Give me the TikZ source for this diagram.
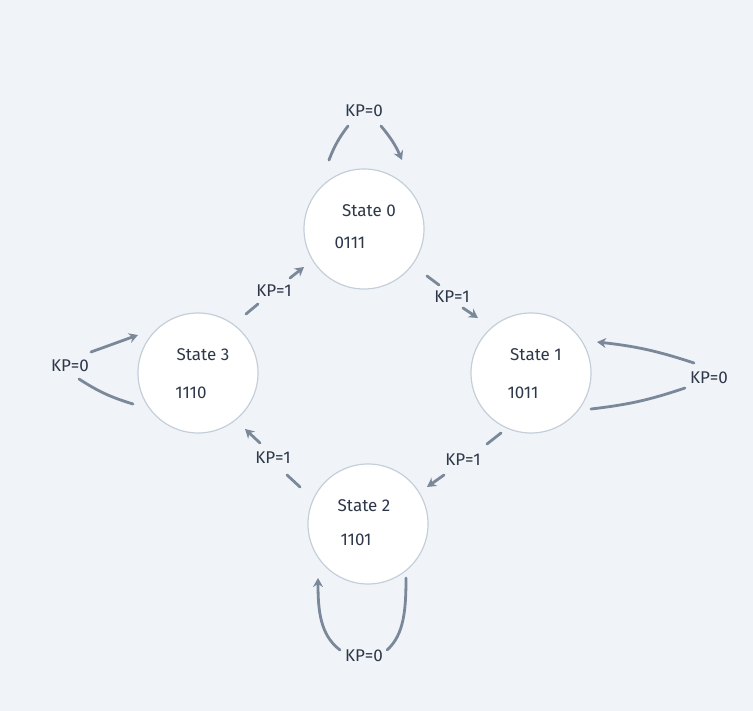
\documentclass[tikz,border=0pt]{standalone}
\usepackage{fontspec}
\setmainfont{Fira Sans}
\usetikzlibrary{arrows.meta}
\definecolor{bg}{HTML}{F0F4F8}
\definecolor{ring}{HTML}{C5CFDA}
\definecolor{arr}{HTML}{7A8899}
\definecolor{txt}{HTML}{2D3748}
\begin{document}
\begin{tikzpicture}[x=1pt,y=-1pt,
  st/.style={circle,draw=ring,line width=1.2pt,fill=white,minimum size=120pt,inner sep=0pt},
  lbl/.style={text=txt,font=\fontsize{17}{20}\selectfont,inner sep=1pt},
  ln/.style={draw=arr,line width=2.8pt,line cap=round},
  ar/.style={ln,-{Stealth[length=9pt,width=10pt]}}]
\fill[bg] (0,0) rectangle (753,711);
\useasboundingbox (0,0) rectangle (753,711);
\node[st] (s0) at (364,229) {};
\node[st] (s1) at (531,373) {};
\node[st] (s2) at (368,524) {};
\node[st] (s3) at (198,373) {};
\node[lbl] (t0) at (369,211) {State 0}; \node[lbl] (c0) at (350,243) {0111};
\node[lbl] (t1) at (536,355) {State 1}; \node[lbl] (c1) at (523,393) {1011};
\node[lbl] (t2) at (364,506) {State 2}; \node[lbl] (c2) at (356,540) {1101};
\node[lbl] (t3) at (203,355) {State 3}; \node[lbl] (c3) at (191,393) {1110};
% labels
\node[lbl] (l00) at (364,111) {KP=0};
\node[lbl] (l01) at (452,297) {KP=1};
\node[lbl] (l12) at (463,460) {KP=1};
\node[lbl] (l23) at (273,458) {KP=1};
\node[lbl] (l30) at (274,291) {KP=1};
\node[lbl] (l11) at (709,378) {KP=0};
\node[lbl] (l33) at (70,366) {KP=0};
\node[lbl] (l22) at (364,656) {KP=0};
\coordinate (a1) at (329,160); \coordinate (a2) at (348,126);
\coordinate (a3) at (381,126); \coordinate (a4) at (402,160);
\draw[ln] (a1) to[bend left=8] (a2);
\draw[ar] (a3) to[bend left=8] (a4);
\coordinate (b1) at (427,276); \coordinate (b2) at (439,285);
\coordinate (b3) at (463,308); \coordinate (b4) at (478,318);
\draw[ln] (b1) -- (b2); \draw[ar] (b3) -- (b4);
\coordinate (c1a) at (501,433); \coordinate (c2a) at (487,444);
\coordinate (c3a) at (444,475); \coordinate (c4a) at (427,487);
\draw[ln] (c1a) -- (c2a); \draw[ar] (c3a) -- (c4a);
\coordinate (d1) at (300,487); \coordinate (d2) at (287,475);
\coordinate (d3) at (260,443); \coordinate (d4) at (245,429);
\draw[ln] (d1) -- (d2); \draw[ar] (d3) -- (d4);
\coordinate (e1) at (246,314); \coordinate (e2) at (258,304);
\coordinate (e3) at (290,278); \coordinate (e4) at (304,267);
\draw[ln] (e1) -- (e2); \draw[ar] (e3) -- (e4);
\coordinate (f1) at (694,363); \coordinate (f2) at (597,342);
\coordinate (f3) at (685,388); \coordinate (f4) at (591,409);
\draw[ar] (f1) to[bend right=6] (f2);
\draw[ln] (f3) to[bend left=6] (f4);
\coordinate (g1) at (91,352); \coordinate (g2) at (138,335);
\coordinate (g3) at (79,379); \coordinate (g4) at (133,404);
\draw[ar] (g1) -- (g2);
\draw[ln] (g3) to[bend right=8] (g4);
\coordinate (h1) at (340,650); \coordinate (h2) at (318,578);
\coordinate (h3) at (406,578); \coordinate (h4) at (387,650);
\draw[ar] (h1) .. controls (320,635) and (318,610) .. (h2);
\draw[ln] (h3) .. controls (406,610) and (404,635) .. (h4);
\end{tikzpicture}
\end{document}
